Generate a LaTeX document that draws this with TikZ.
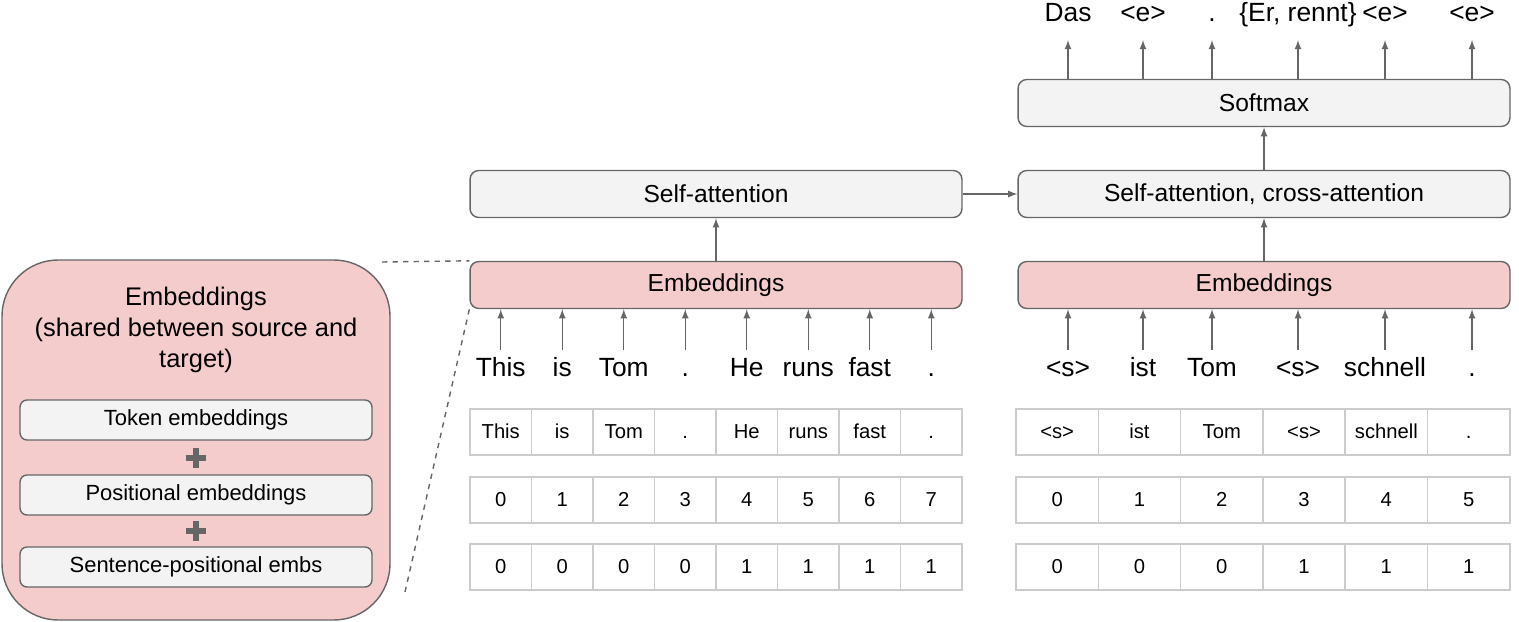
\documentclass[tikz,border=0pt]{standalone}
\usepackage{fontspec}
\setmainfont{Liberation Sans}
\usepackage{tikz}
\usetikzlibrary{calc}
\definecolor{pinkfill}{RGB}{244, 204, 204}
\definecolor{greyfill}{RGB}{243, 243, 243}
\definecolor{edge}{RGB}{102, 102, 102}
\definecolor{cell}{RGB}{204, 204, 204}

\begin{document}
\begin{tikzpicture}[x=0.02cm, y=-0.02cm,
  block/.style={draw=edge, rounded corners=5pt, line width=0.8pt, minimum height=0.94cm, font=\fontsize{14}{16}\selectfont},
  small/.style={draw=edge, rounded corners=4pt, line width=0.8pt, fill=greyfill, minimum height=0.8cm, minimum width=7.04cm, font=\fontsize{12.5}{14}\selectfont},
  arr/.style={-latex, draw=edge, line width=0.8pt},
  word/.style={font=\fontsize{15}{17}\selectfont, text height=1.6ex, text depth=0.3ex},
  tab/.style={draw=cell, line width=0.9pt, minimum width=#1, minimum height=0.92cm, text height=1.6ex, text depth=0.3ex, font=\fontsize{11.5}{13}\selectfont}]

  \useasboundingbox (0, 0) rectangle (1519, 622);

  % shared embeddings panel
  \draw[draw=edge, fill=pinkfill, line width=0.8pt, rounded corners=32pt] (2, 260) rectangle (390, 620);
  \node[align=center, font=\fontsize{14.5}{17.5}\selectfont] (title) at (196, 330)
    {Embeddings\\(shared between source and\\target)};
  \node[small] (tok) at (196, 420) {Token embeddings};
  \node[small] (pos) at (196, 495) {Positional embeddings};
  \node[small] (sen) at (196, 567) {Sentence-positional embs};
  \foreach \y in {458, 531} {
    \fill[edge] (196, \y) +(-3, -10) rectangle +(3, 10);
    \fill[edge] (196, \y) +(-10, -3) rectangle +(10, 3);
  }

  % encoder
  \node[block, fill=pinkfill, minimum width=9.84cm] (encemb) at (716, 285) {Embeddings};
  \node[block, fill=greyfill, minimum width=9.84cm] (encatt) at (716, 194) {Self-attention};
  \draw[arr] (encemb) -- (encatt);
  \draw[dashed, edge, line width=0.8pt] (382, 262) -- (encemb.north west);
  \draw[dashed, edge, line width=0.8pt] (405, 592) -- (encemb.south west);

  \foreach \w [count=\i] in {This, is, Tom, ., He, runs, fast, .} {
    \node[word] (ew\i) at ({470 + 61.5*(\i - 0.5)}, 370) {\w};
    \coordinate (ea\i) at ({470 + 61.5*(\i - 0.5)}, 350);
    \draw[arr] (ea\i) -- (ea\i |- encemb.south);
    \node[tab=1.23cm] (et\i) at ({470 + 61.5*(\i - 0.5)}, 432) {\w};
  }
  \foreach \p [count=\i] in {0, ..., 7} {
    \node[tab=1.23cm] (ep\i) at ({470 + 61.5*(\i - 0.5)}, 500) {\p};
  }
  \foreach \s [count=\i] in {0, 0, 0, 0, 1, 1, 1, 1} {
    \node[tab=1.23cm] (es\i) at ({470 + 61.5*(\i - 0.5)}, 567) {\s};
  }

  % decoder
  \node[block, fill=pinkfill, minimum width=9.84cm] (decemb) at (1264, 285) {Embeddings};
  \node[block, fill=greyfill, minimum width=9.84cm] (decatt) at (1264, 194) {Self-attention, cross-attention};
  \node[block, fill=greyfill, minimum width=9.84cm] (soft) at (1264, 103) {Softmax};
  \draw[arr] (decemb) -- (decatt);
  \draw[arr] (decatt) -- (soft);
  \draw[arr] (encatt) -- (decatt);

  \foreach \w/\x [count=\i] in {<s>/1068, ist/1143, Tom/1212, <s>/1298, schnell/1385, ./1472} {
    \node[word] (dw\i) at (\x, 370) {\w};
    \coordinate (da\i) at (\x, 350);
    \draw[arr] (da\i) -- (da\i |- decemb.south);
  }
  \foreach \w/\x [count=\i] in {Das/1068, <e>/1143, ./1212, {\{Er, rennt\}}/1298, <e>/1385, <e>/1472} {
    \node[word] (out\i) at (\x, 15) {\w};
    \coordinate (oa\i) at (\x, 40);
    \draw[arr] (oa\i |- soft.north) -- (oa\i);
  }
  \foreach \w [count=\i] in {<s>, ist, Tom, <s>, schnell, .} {
    \node[tab=1.646cm] (dt\i) at ({1016 + 82.3*(\i - 0.5)}, 432) {\w};
  }
  \foreach \p [count=\i] in {0, ..., 5} {
    \node[tab=1.646cm] (dp\i) at ({1016 + 82.3*(\i - 0.5)}, 500) {\p};
  }
  \foreach \s [count=\i] in {0, 0, 0, 1, 1, 1} {
    \node[tab=1.646cm] (ds\i) at ({1016 + 82.3*(\i - 0.5)}, 567) {\s};
  }

\end{tikzpicture}
\end{document}
